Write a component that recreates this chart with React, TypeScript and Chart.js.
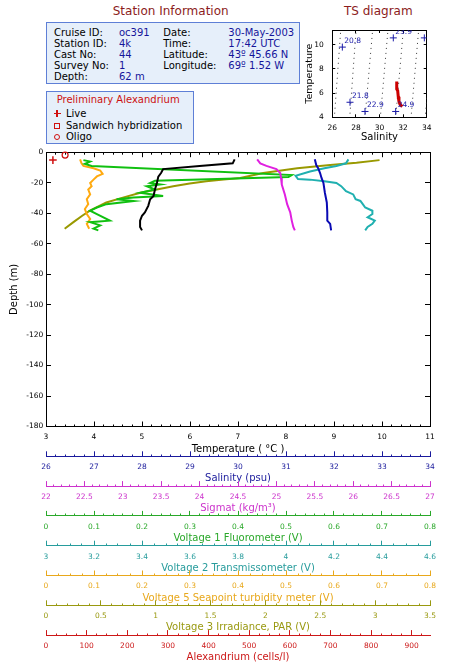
import React, { useEffect, useRef } from "react";
import { Chart, registerables } from "chart.js";

Chart.register(...registerables);

const FONT = "'DejaVu Sans', Verdana, sans-serif";

// ---------------- Main profile data (depth in m, negative = down) ----------------
const tempDepth = [-4.7, -7.3, -9.0, -11.1, -13.5, -16.0, -20.2, -24.5, -28.8, -30.9, -35.2, -39.5, -41.7, -44.9, -49.1, -51.3];
const temperature = [6.93, 6.89, 6.2, 5.44, 5.4, 5.34, 5.31, 5.27, 5.24, 5.17, 5.13, 5.06, 5.0, 4.96, 4.96, 5.0];

const salDepth = [-4.7, -8.4, -10.5, -13.7, -16.9, -20.2, -26.6, -33.0, -39.5, -44.9, -47.0, -51.3];
const salinity = [31.6, 31.63, 31.67, 31.71, 31.74, 31.78, 31.81, 31.85, 31.86, 31.86, 31.92, 31.94];

const sigDepth = [-4.7, -7.3, -9.0, -11.1, -13.7, -16.9, -21.2, -27.7, -34.1, -39.5, -44.9, -49.1, -51.3];
const sigmat = [24.75, 24.79, 24.87, 25.0, 25.05, 25.06, 25.07, 25.11, 25.14, 25.18, 25.2, 25.22, 25.24];

const fluoDepth = [-5.2, -6.2, -7.7, -9.0, -15.0, -16.3, -18.7, -20.2, -21.2, -22.3, -24.5, -26.6, -28.8, -29.8, -30.9, -32.0, -34.1, -36.3, -38.4, -40.6, -44.9, -45.9, -48.0, -50.2, -51.3];
const fluoro = [0.078, 0.092, 0.081, 0.095, 0.512, 0.505, 0.227, 0.217, 0.238, 0.21, 0.227, 0.196, 0.244, 0.182, 0.147, 0.182, 0.126, 0.106, 0.092, 0.106, 0.133, 0.092, 0.113, 0.099, 0.109];

const trDepth = [-4.7, -7.3, -9.0, -10.5, -12.7, -15.5, -17.6, -18.0, -19.1, -20.2, -22.3, -25.6, -27.7, -30.9, -32.0, -34.1, -36.3, -38.4, -40.6, -42.7, -44.9, -47.0, -49.1, -51.3];
const transmissometer = [4.26, 4.25, 4.21, 4.16, 4.1, 4.04, 4.05, 4.1, 4.16, 4.21, 4.23, 4.25, 4.28, 4.29, 4.31, 4.32, 4.33, 4.36, 4.36, 4.34, 4.37, 4.36, 4.34, 4.33];

const tuDepth = [-4.7, -7.3, -9.0, -10.5, -12.0, -14.2, -15.9, -18.0, -20.2, -22.3, -24.5, -27.7, -30.9, -34.1, -37.3, -40.6, -43.8, -47.0, -50.2];
const turbidity = [0.071, 0.074, 0.078, 0.099, 0.113, 0.118, 0.106, 0.099, 0.092, 0.095, 0.088, 0.092, 0.085, 0.088, 0.081, 0.085, 0.092, 0.085, 0.09];

const parDepth = [-5.2, -6.9, -8.4, -10.5, -13.7, -16.9, -18.0, -19.1, -20.6, -22.3, -24.5, -26.6, -29.8, -33.0, -38.4, -41.7, -45.9, -50.2];
const par = [3.04, 2.83, 2.59, 2.29, 1.98, 1.77, 1.62, 1.46, 1.31, 1.16, 1.01, 0.86, 0.7, 0.55, 0.4, 0.33, 0.25, 0.17];

const liveDepth = [-5.2];
const liveCells = [17];
const oligoDepth = [-1.9];
const oligoCells = [47];

// ---------------- TS diagram data ----------------
const tsSal = [31.46, 31.46, 31.54, 31.59, 31.65, 31.74, 31.93];
const tsTemp = [6.96, 6.32, 6.2, 5.69, 5.31, 5.06, 4.88];

const isoSalBottom = [26.2, 27.5, 28.8, 30.1, 31.4, 32.7, 33.9];
const isoSalTop = [26.7, 28.0, 29.4, 30.7, 32.0, 33.3, 34.5];
const isoTempBottom = 4.3;
const isoTempTop = 11.0;

const markSal = [26.85, 27.5, 28.77, 31.17, 31.37, 33.8];
const markTemp = [9.79, 5.24, 4.48, 10.55, 4.48, 10.55];
const markLabel = ["20.8", "21.8", "22.9", "23.9", "24.9", "25.9"];

// ---------------- Station info text ----------------
const infoLabels1 = ["Cruise ID:", "Station ID:", "Cast No:", "Survey No:", "Depth:"];
const infoValues1 = ["oc391", "4k", "44", "1", "62 m"];
const infoLabels2 = ["Date:", "Time:", "Latitude:", "Longitude:"];
const infoValues2 = ["30-May-2003", "17:42 UTC", "43º 45.66 N", "69º 1.52 W"];

const pts = (xs: number[], ys: number[]) => xs.map((x, i) => ({ x, y: ys[i] }));
const near = (v: number, step: number) => Math.abs(v / step - Math.round(v / step)) < 1e-6;
const fmt = (v: number) => String(parseFloat(v.toFixed(4)));

type AxisSpec = {
  id: string; min: number; max: number; minor: number; major: number;
  color: string; text: string; title: string;
};

const bottomAxes: AxisSpec[] = [
  { id: "xT", min: 3, max: 11, minor: 0.2, major: 1, color: "#000000", text: "#000000", title: "Temperature ( °C )" },
  { id: "xS", min: 26, max: 34, minor: 0.2, major: 1, color: "#1a1a9c", text: "#1a1a9c", title: "Salinity (psu)" },
  { id: "xSig", min: 22, max: 27, minor: 0.1, major: 0.5, color: "#cc33cc", text: "#cc33cc", title: "Sigmat (kg/m³)" },
  { id: "xF", min: 0, max: 0.8, minor: 0.02, major: 0.1, color: "#2aa82a", text: "#2aa82a", title: "Voltage 1 Fluorometer (V)" },
  { id: "xTr", min: 3, max: 4.6, minor: 0.05, major: 0.2, color: "#279c9c", text: "#279c9c", title: "Voltage 2 Transmissometer (V)" },
  { id: "xTu", min: 0, max: 0.8, minor: 0.025, major: 0.1, color: "#e8a81c", text: "#e8a81c", title: "Voltage 5 Seapoint turbidity meter (V)" },
  { id: "xP", min: 0, max: 3.5, minor: 0.1, major: 0.5, color: "#999910", text: "#999910", title: "Voltage 3 Irradiance, PAR (V)" },
  { id: "xA", min: 0, max: 945, minor: 25, major: 100, color: "#cc1818", text: "#cc1818", title: "Alexandrium (cells/l)" },
];

const TICK_FONT = { family: FONT, size: 7.5 };
const TITLE_FONT = { family: FONT, size: 10 };

function makeBottomAxis(spec: AxisSpec, index: number) {
  return {
    type: "linear",
    axis: "x",
    position: "bottom",
    weight: index,
    min: spec.min,
    max: spec.max,
    grid: {
      drawOnChartArea: false,
      drawTicks: true,
      tickLength: -5,
      tickColor: spec.color,
      tickWidth: 1,
      tickBorderDash: (ctx: any) =>
        ctx.tick && near(ctx.tick.value - spec.min, spec.major) ? [] : [2.5, 100],
    },
    border: { display: true, color: spec.color, width: 1 },
    ticks: {
      stepSize: spec.minor,
      includeBounds: false,
      autoSkip: false,
      maxRotation: 0,
      minRotation: 0,
      color: spec.text,
      font: TICK_FONT,
      padding: 11.5,
      callback: (v: any) => (near(Number(v) - spec.min, spec.major) ? fmt(Number(v)) : ""),
    },
    title: {
      display: true,
      text: spec.title,
      color: spec.text,
      font: TITLE_FONT,
      padding: { top: 0, bottom: 1.2 },
    },
    afterFit: (s: any) => {
      s.height = 29.8;
    },
  };
}

function lineSet(label: string, xs: number[], ys: number[], axisId: string, color: string) {
  return {
    label,
    data: pts(xs, ys),
    xAxisID: axisId,
    yAxisID: "y",
    showLine: true,
    borderColor: color,
    backgroundColor: color,
    borderWidth: 2,
    pointRadius: 0,
    tension: 0,
  };
}

function mainConfig(): any {
  const scales: any = {
    y: {
      type: "linear",
      axis: "y",
      position: "left",
      min: -180,
      max: 0,
      grid: { drawOnChartArea: false, tickLength: -5, tickColor: "#000", color: "#000" },
      border: { display: true, color: "#000", width: 1 },
      ticks: { stepSize: 20, color: "#000", font: TICK_FONT, padding: 7.7, autoSkip: false },
      title: { display: true, text: "Depth (m)", color: "#000", font: TITLE_FONT, padding: { top: 8, bottom: 0 } },
      afterFit: (s: any) => {
        s.width = 46;
      },
    },
    yR: {
      type: "linear",
      axis: "y",
      position: "right",
      min: -180,
      max: 0,
      grid: { drawOnChartArea: false, tickLength: -5, tickColor: "#000" },
      border: { display: true, color: "#000", width: 1 },
      ticks: { stepSize: 20, display: false, autoSkip: false },
      afterFit: (s: any) => {
        s.width = 20;
      },
    },
    xTop: {
      type: "linear",
      axis: "x",
      position: "top",
      min: 3,
      max: 11,
      grid: {
        drawOnChartArea: false,
        tickLength: -5,
        tickColor: "#000",
        tickBorderDash: (ctx: any) =>
          ctx.tick && near(ctx.tick.value - 3, 1) ? [] : [0, 2.5, 2.5, 100],
      },
      border: { display: true, color: "#000", width: 1 },
      ticks: { stepSize: 0.2, display: false, autoSkip: false, includeBounds: false },
      afterFit: (s: any) => {
        s.height = 7;
      },
    },
  };
  bottomAxes.forEach((a, i) => {
    scales[a.id] = makeBottomAxis(a, i);
  });

  return {
    type: "scatter",
    data: {
      datasets: [
        {
          label: "Live",
          data: pts(liveCells, liveDepth),
          xAxisID: "xA",
          yAxisID: "y",
          pointStyle: "cross",
          pointRadius: 3.8,
          borderWidth: 1.5,
          borderColor: "#d01010",
          backgroundColor: "#d01010",
          clip: 6,
        },
        {
          label: "Oligo",
          data: pts(oligoCells, oligoDepth),
          xAxisID: "xA",
          yAxisID: "y",
          pointStyle: "circle",
          pointRadius: 3,
          borderWidth: 1.2,
          borderColor: "#d01010",
          backgroundColor: "rgba(0,0,0,0)",
          clip: 6,
        },
        lineSet("Temperature", temperature, tempDepth, "xT", "#000000"),
        lineSet("Salinity", salinity, salDepth, "xS", "#0a0ab4"),
        lineSet("Sigmat", sigmat, sigDepth, "xSig", "#e020e0"),
        lineSet("Fluorometer", fluoro, fluoDepth, "xF", "#10c010"),
        lineSet("Transmissometer", transmissometer, trDepth, "xTr", "#20b0b0"),
        lineSet("Turbidity", turbidity, tuDepth, "xTu", "#ffaa10"),
        lineSet("PAR", par, parDepth, "xP", "#999900"),
      ],
    },
    options: {
      responsive: false,
      maintainAspectRatio: false,
      animation: false,
      layout: { padding: { top: 0, left: 0, right: 0, bottom: 2.1 } },
      plugins: { legend: { display: false }, tooltip: { enabled: false } },
      scales,
    },
  };
}

const tsLabelPlugin = {
  id: "tsLabels",
  afterDatasetsDraw(chart: any) {
    const { ctx, chartArea } = chart;
    const xs = chart.scales.x;
    const ys = chart.scales.y;
    ctx.save();
    ctx.beginPath();
    ctx.rect(chartArea.left, chartArea.top, chartArea.right - chartArea.left, chartArea.bottom - chartArea.top);
    ctx.clip();
    ctx.fillStyle = "#1a1aa8";
    ctx.font = `7.5px ${FONT}`;
    ctx.textAlign = "left";
    ctx.textBaseline = "middle";
    markLabel.forEach((t, i) => {
      ctx.fillText(t, xs.getPixelForValue(markSal[i]) + 2, ys.getPixelForValue(markTemp[i]) - 6);
    });
    ctx.restore();
  },
};

function tsConfig(): any {
  const isoSets = isoSalBottom.map((sb, i) => ({
    label: "iso" + i,
    data: [
      { x: sb, y: isoTempBottom },
      { x: isoSalTop[i], y: isoTempTop },
    ],
    showLine: true,
    borderColor: "#333333",
    borderWidth: 1,
    borderDash: [1, 4],
    pointRadius: 0,
  }));
  return {
    type: "scatter",
    data: {
      datasets: [
        {
          label: "TS",
          data: pts(tsSal, tsTemp),
          showLine: true,
          borderColor: "#cc0000",
          borderWidth: 3,
          pointRadius: 0,
        },
        {
          label: "marks",
          data: pts(markSal, markTemp),
          pointStyle: "cross",
          pointRadius: 3.5,
          borderWidth: 1,
          borderColor: "#1a1aa8",
          backgroundColor: "#1a1aa8",
        },
        ...isoSets,
      ],
    },
    options: {
      responsive: false,
      maintainAspectRatio: false,
      animation: false,
      layout: { padding: 0 },
      plugins: { legend: { display: false }, tooltip: { enabled: false } },
      scales: {
        x: {
          type: "linear",
          position: "bottom",
          min: 26,
          max: 34,
          grid: { drawOnChartArea: false, tickLength: -3, tickColor: "#000" },
          border: { display: true, color: "#000" },
          ticks: { stepSize: 2, color: "#000", font: TICK_FONT, padding: 9.2, autoSkip: false, maxRotation: 0 },
          title: { display: true, text: "Salinity", color: "#000", font: TITLE_FONT, padding: { top: 0, bottom: 0.5 } },
          afterFit: (s: any) => {
            s.height = 26.7;
          },
        },
        xTop: {
          type: "linear",
          axis: "x",
          position: "top",
          min: 26,
          max: 34,
          grid: { drawOnChartArea: false, tickLength: -3, tickColor: "#000" },
          border: { display: true, color: "#000" },
          ticks: { stepSize: 2, display: false },
          afterFit: (s: any) => {
            s.height = 8.3;
          },
        },
        y: {
          type: "linear",
          position: "left",
          min: 4,
          max: 11.2,
          grid: { drawOnChartArea: false, tickLength: -3, tickColor: "#000" },
          border: { display: true, color: "#000" },
          ticks: { stepSize: 2, includeBounds: false, color: "#000", font: TICK_FONT, padding: 11.5, autoSkip: false },
          title: { display: true, text: "Temperature", color: "#000", font: { family: FONT, size: 9.5 }, padding: { top: 14, bottom: 0 } },
          afterFit: (s: any) => {
            s.width = 42.3;
          },
        },
        yR: {
          type: "linear",
          axis: "y",
          position: "right",
          min: 4,
          max: 11.2,
          grid: { drawOnChartArea: false, tickLength: -3, tickColor: "#000" },
          border: { display: true, color: "#000" },
          ticks: { stepSize: 2, includeBounds: false, display: false },
          afterFit: (s: any) => {
            s.width = 23.3;
          },
        },
      },
    },
    plugins: [tsLabelPlugin],
  };
}

function Txt(props: { x: number; cy: number; color: string; size?: number; children: React.ReactNode }) {
  const size = props.size ?? 10;
  const lh = size * 1.1;
  return (
    <div
      style={{
        position: "absolute",
        left: props.x,
        top: props.cy - lh / 2,
        fontFamily: FONT,
        fontSize: size,
        lineHeight: `${lh}px`,
        color: props.color,
        whiteSpace: "nowrap",
      }}
    >
      {props.children}
    </div>
  );
}

function CTxt(props: { cx: number; cy: number; color: string; size?: number; children: React.ReactNode }) {
  const size = props.size ?? 12;
  const lh = size * 1.1;
  return (
    <div
      style={{
        position: "absolute",
        left: props.cx - 100,
        width: 200,
        textAlign: "center",
        top: props.cy - lh / 2,
        fontFamily: FONT,
        fontSize: size,
        lineHeight: `${lh}px`,
        color: props.color,
        whiteSpace: "nowrap",
      }}
    >
      {props.children}
    </div>
  );
}

function Bar(props: { x: number; y: number; w: number; h: number; color: string }) {
  return (
    <div
      style={{
        position: "absolute",
        left: props.x,
        top: props.y,
        width: props.w,
        height: props.h,
        background: props.color,
      }}
    />
  );
}

export default function App() {
  const mainRef = useRef<HTMLCanvasElement>(null);
  const tsRef = useRef<HTMLCanvasElement>(null);

  useEffect(() => {
    const main = new Chart(mainRef.current as HTMLCanvasElement, mainConfig());
    const ts = new Chart(tsRef.current as HTMLCanvasElement, tsConfig());
    return () => {
      main.destroy();
      ts.destroy();
    };
  }, []);

  const boxBg = "#e6effa";
  const boxBorder = "#5e7fd6";
  const legendRed = "#d01010";
  const rowY = [32.6, 43.5, 54.4, 65.3, 76.3];

  return (
    <div style={{ position: "absolute", left: 0, top: 0, width: 450, height: 667, background: "#ffffff", overflow: "hidden" }}>
      <CTxt cx={170.7} cy={11.7} color="#8c1c1c" size={12}>Station Information</CTxt>
      <div
        style={{
          position: "absolute",
          left: 46,
          top: 21.7,
          width: 253.5,
          height: 62.5,
          boxSizing: "border-box",
          background: boxBg,
          border: `1px solid ${boxBorder}`,
        }}
      />
      {infoLabels1.map((t, i) => (
        <Txt key={"l1" + i} x={54} cy={rowY[i]} color="#000000">{t}</Txt>
      ))}
      {infoValues1.map((t, i) => (
        <Txt key={"v1" + i} x={119} cy={rowY[i]} color="#15159a">{t}</Txt>
      ))}
      {infoLabels2.map((t, i) => (
        <Txt key={"l2" + i} x={163.3} cy={rowY[i]} color="#000000">{t}</Txt>
      ))}
      {infoValues2.map((t, i) => (
        <Txt key={"v2" + i} x={228.3} cy={rowY[i]} color="#15159a">{t}</Txt>
      ))}

      <div
        style={{
          position: "absolute",
          left: 46,
          top: 91,
          width: 147.5,
          height: 52.5,
          boxSizing: "border-box",
          background: boxBg,
          border: `1px solid ${boxBorder}`,
        }}
      />
      <Txt x={56.7} cy={99.5} color="#cc1111">Preliminary Alexandrium</Txt>
      <Bar x={53.5} y={112.6} w={7} h={1.5} color={legendRed} />
      <Bar x={56.25} y={109.8} w={1.5} h={7} color={legendRed} />
      <div
        style={{
          position: "absolute",
          left: 54,
          top: 122.7,
          width: 6,
          height: 6,
          boxSizing: "border-box",
          border: `1.5px solid ${legendRed}`,
        }}
      />
      <div
        style={{
          position: "absolute",
          left: 54,
          top: 133.7,
          width: 6,
          height: 6,
          boxSizing: "border-box",
          borderRadius: "50%",
          border: `1.2px solid ${legendRed}`,
        }}
      />
      <Txt x={66} cy={113.3} color="#000000">Live</Txt>
      <Txt x={66} cy={125.5} color="#000000">Sandwich hybridization</Txt>
      <Txt x={66} cy={136.7} color="#000000">Oligo</Txt>

      <CTxt cx={378.3} cy={12} color="#8c1c1c" size={12}>TS diagram</CTxt>
      <canvas
        ref={tsRef}
        width={160}
        height={130}
        style={{ position: "absolute", left: 290, top: 14, width: 160, height: 130 }}
      />
      <canvas
        ref={mainRef}
        width={450}
        height={527}
        style={{ position: "absolute", left: 0, top: 140, width: 450, height: 527 }}
      />
    </div>
  );
}
